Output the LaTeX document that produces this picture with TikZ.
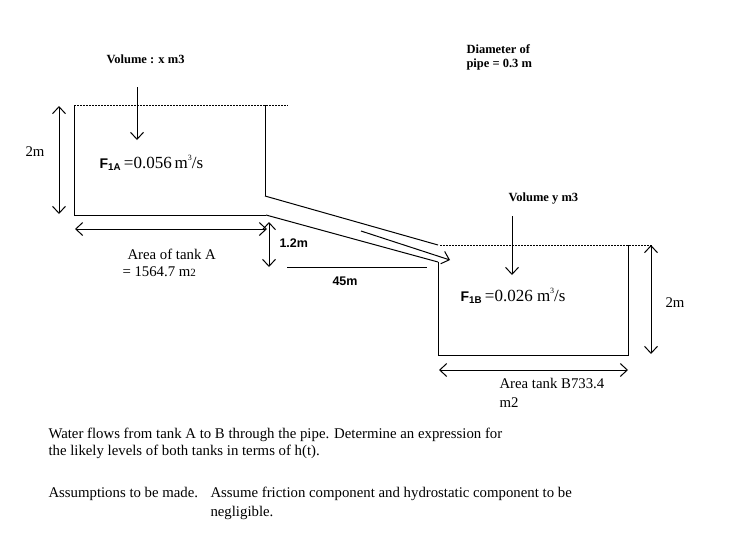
\documentclass[tikz,border=0pt]{standalone}
\usepackage{fontspec}
\usetikzlibrary{arrows.meta}
\setmainfont{Liberation Serif}
\newfontfamily\sansf{Liberation Sans}
\newcommand{\tinysup}[1]{\raisebox{0.45em}{\fontsize{8}{9}\selectfont #1}}
\begin{document}
\begin{tikzpicture}[x=1pt,y=-1pt,line width=1pt,
  lbl/.style={inner sep=0pt,anchor=west,font=\fontsize{14.8}{17}\selectfont},
  blbl/.style={inner sep=0pt,anchor=west,font=\fontsize{12.5}{15}\selectfont\bfseries},
  slbl/.style={inner sep=0pt,anchor=west,font=\sansf\fontsize{12.5}{14}\selectfont\bfseries},
  flbl/.style={inner sep=0pt,anchor=west,font=\fontsize{17}{19}\selectfont},
  tip/.style={>={Straight Barb[length=7pt,width=13pt]}},
  dim/.style={<->,tip},
  dn/.style={->,tip}]
\useasboundingbox (0,0) rectangle (731,552);
% tank A
\coordinate (A1) at (74,105); \coordinate (A2) at (265,105);
\coordinate (A3) at (265,196); \coordinate (A4) at (266,215); \coordinate (A5) at (74,215);
\draw (A2) -- (A3); \draw (A4) -- (A5) -- (A1);
\draw[line width=0.7pt,dash pattern=on 2pt off 1pt] (A1) -- (288,105);
% pipe
\coordinate (B1) at (438,245); \coordinate (B2) at (438,262);
\draw (A3) -- (B1); \draw (A4) -- (B2);
\coordinate (P1) at (361,231); \coordinate (P2) at (450,260);
\draw[dn] (P1) -- (P2);
% tank B
\coordinate (B3) at (438,355); \coordinate (B4) at (628,355); \coordinate (B5) at (628,245);
\draw (B2) -- (B3) -- (B4) -- (B5);
\draw[line width=0.7pt,dash pattern=on 2pt off 1pt] (440,245) -- (652,245);
% dimensions
\coordinate (d1) at (59,106); \coordinate (d2) at (59,214);
\draw[dim] (d1) -- (d2);
\node[lbl] (h1) at (25,152) {2m};
\coordinate (w1) at (75,229); \coordinate (w2) at (267,229);
\draw[dim] (w1) -- (w2);
\coordinate (v1) at (269,222); \coordinate (v2) at (269,267);
\draw[dim] (v1) -- (v2);
\node[slbl] (h2) at (279,243) {1.2m};
\coordinate (l1) at (287,267); \coordinate (l2) at (427,267);
\draw (l1) -- (l2);
\node[slbl] (l45) at (332,281) {45m};
\coordinate (e1) at (651,245); \coordinate (e2) at (651,354);
\draw[dim] (e1) -- (e2);
\node[lbl] (h3) at (665,303) {2m};
\coordinate (f1) at (439,370); \coordinate (f2) at (628,370);
\draw[dim] (f1) -- (f2);
% inflows
\node[blbl] (vx) at (106,59) {Volume : x m3};
\coordinate (i1) at (137,87); \coordinate (i2) at (137,140);
\draw[dn] (i1) -- (i2);
\node[flbl] (fa) at (99,163) {{\sansf\bfseries\fontsize{14}{16}\selectfont F\textsubscript{1A}}\,=0.056\,m\tinysup{3}/s};
\node[blbl] (vy) at (508,199) {Volume y m3};
\coordinate (j1) at (512,216); \coordinate (j2) at (512,275);
\draw[dn] (j1) -- (j2);
\node[flbl] (fb) at (460,296) {{\sansf\bfseries\fontsize{14}{16}\selectfont F\textsubscript{1B}}\,=0.026 m\tinysup{3}/s};
\node[blbl,align=left,font=\fontsize{12.5}{14}\selectfont\bfseries] (dia) at (466,57) {Diameter of\\pipe = 0.3 m};
% areas
\node[lbl] (aa) at (127,254) {Area of tank A};
\node[lbl] (ab) at (122,272) {= 1564.7 m{\fontsize{11}{12}\selectfont 2}};
\node[lbl,align=left,anchor=north west,font=\fontsize{14.8}{19}\selectfont] (atb) at (499,378) {Area tank B733.4\\m2};
% text
\node[lbl,align=left,anchor=north west] (t1) at (48,428) {Water flows from tank A to B through the pipe. Determine an expression for\\the likely levels of both tanks in terms of h(t).};
\node[lbl] (t2) at (48,494) {Assumptions to be made.};
\node[lbl,align=left,anchor=north west,font=\fontsize{14.8}{19}\selectfont] (t3) at (210,487) {Assume friction component and hydrostatic component to be\\negligible.};
\end{tikzpicture}
\end{document}
